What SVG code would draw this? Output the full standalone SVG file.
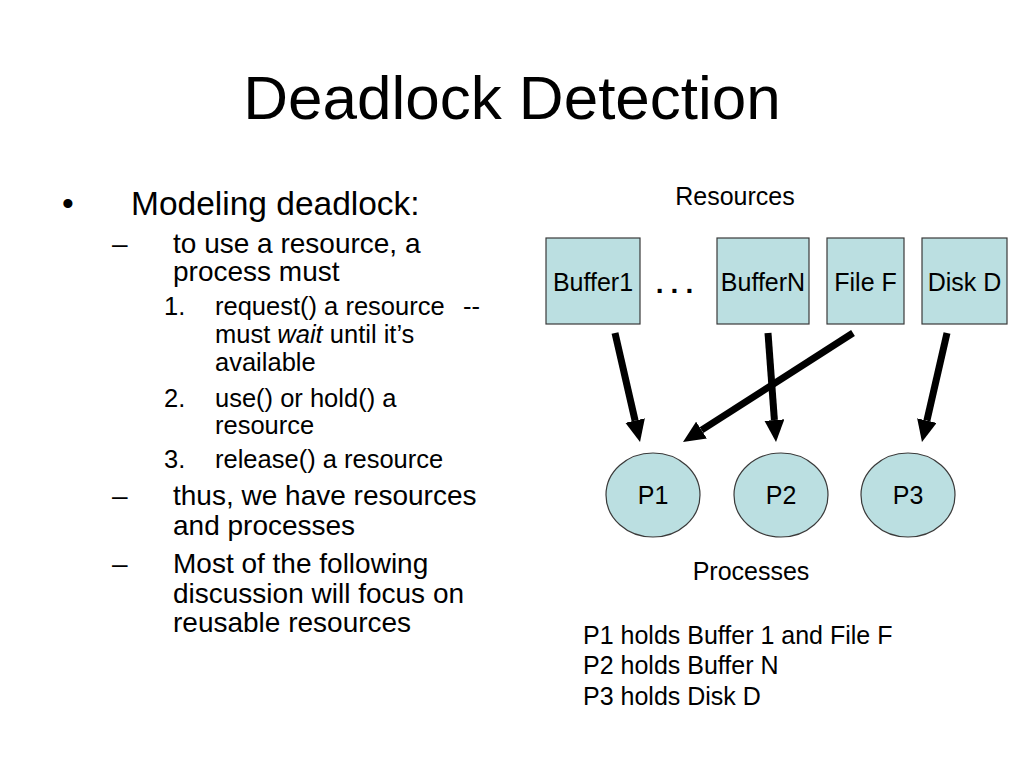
<svg xmlns="http://www.w3.org/2000/svg" width="1024" height="768" viewBox="0 0 1024 768">
<style>
text{font-family:"Liberation Sans",Arial,sans-serif;fill:#000}
.res{fill:#bbdfe1;stroke:#3a3a3a;stroke-width:1.2}
.lbl{font-size:25px;text-anchor:middle}
.l1{font-size:33.5px}
.l2{font-size:28px}
.l3{font-size:25.5px}
.cap{font-size:25px}
.edge{stroke:#000;stroke-width:7;fill:none;marker-end:url(#ah)}
</style>
<defs>
<marker id="ah" markerUnits="userSpaceOnUse" markerWidth="22" markerHeight="20" viewBox="0 0 22 20" refX="0" refY="10" orient="auto">
<path d="M0,0 L22,10 L0,20 z" fill="#000"/>
</marker>
</defs>
<rect width="1024" height="768" fill="#fff"/>
<text x="512" y="119" style="font-size:62px;text-anchor:middle">Deadlock Detection</text>
<g id="bullets">
<text x="62" y="215" class="l1">•</text>
<text x="131" y="215" class="l1">Modeling deadlock:</text>
<text x="112" y="253" class="l2">–</text>
<text x="173" y="253" class="l2">to use a resource, a</text>
<text x="173" y="281" class="l2">process must</text>
<text x="164" y="315" class="l3">1.</text>
<text x="215" y="315" class="l3">request() a resource</text>
<text x="463" y="315" class="l3">--</text>
<text x="215" y="343" class="l3">must <tspan font-style="italic">wait</tspan> until it’s</text>
<text x="215" y="371" class="l3">available</text>
<text x="164" y="407" class="l3">2.</text>
<text x="215" y="407" class="l3">use() or hold() a</text>
<text x="215" y="434" class="l3">resource</text>
<text x="164" y="468" class="l3">3.</text>
<text x="215" y="468" class="l3">release() a resource</text>
<text x="112" y="505" class="l2">–</text>
<text x="173" y="505" class="l2">thus, we have resources</text>
<text x="173" y="535" class="l2">and processes</text>
<text x="112" y="573" class="l2">–</text>
<text x="173" y="573" class="l2">Most of the following</text>
<text x="173" y="603" class="l2">discussion will focus on</text>
<text x="173" y="632" class="l2">reusable resources</text>
</g>
<text x="735" y="205" class="lbl">Resources</text>
<g id="buffer1"><rect class="res" x="546" y="238" width="94" height="86"/><text x="593" y="291" class="lbl">Buffer1</text></g>
<text x="678" y="293" style="font-size:28px;font-weight:bold;text-anchor:middle;letter-spacing:7px">...</text>
<g id="bufferN"><rect class="res" x="717" y="238" width="92" height="86"/><text x="763" y="291" class="lbl">BufferN</text></g>
<g id="fileF"><rect class="res" x="827" y="238" width="77" height="86"/><text x="865.5" y="291" class="lbl">File F</text></g>
<g id="diskD"><rect class="res" x="922" y="238" width="85" height="86"/><text x="964.5" y="291" class="lbl">Disk D</text></g>
<g id="connectors">
<path class="edge" d="M615,333 L635.1,420.6"/>
<path class="edge" d="M768,333 L774.4,420.1"/>
<path class="edge" d="M853,333 L701.5,430.1"/>
<path class="edge" d="M947,333 L926.9,420.6"/>
</g>
<g id="p1"><ellipse class="res" cx="653" cy="495" rx="47" ry="42"/><text x="653" y="504" class="lbl">P1</text></g>
<g id="p2"><ellipse class="res" cx="781" cy="495" rx="47" ry="42"/><text x="781" y="504" class="lbl">P2</text></g>
<g id="p3"><ellipse class="res" cx="908" cy="495" rx="47" ry="42"/><text x="908" y="504" class="lbl">P3</text></g>
<text x="751" y="580" class="lbl">Processes</text>
<g id="holds">
<text x="583" y="644" class="cap">P1 holds Buffer 1 and File F</text>
<text x="583" y="674" class="cap">P2 holds Buffer N</text>
<text x="583" y="705" class="cap">P3 holds Disk D</text>
</g>
</svg>
